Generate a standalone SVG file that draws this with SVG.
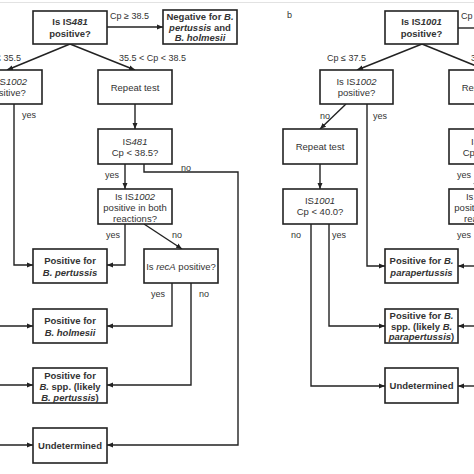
<svg xmlns="http://www.w3.org/2000/svg" width="474" height="474" viewBox="0 0 474 474">
<style>
.box{fill:#fff;stroke:#222;stroke-width:1.6}
.ln{fill:none;stroke:#222;stroke-width:1.4}
text{font-family:"Liberation Sans",Arial,sans-serif;fill:#333}
.t{font-size:9.5px;text-anchor:middle}
.b{font-weight:bold}
.lb{font-size:9px}
.i{font-style:italic}
</style>
<defs>
<marker id="ah" markerUnits="userSpaceOnUse" markerWidth="7" markerHeight="6" refX="6" refY="3" orient="auto">
<path d="M0,0.5 L6,3 L0,5.5 z" fill="#222"/>
</marker>
</defs>
<rect width="474" height="474" fill="#fff"/>
<line x1="0" y1="2.5" x2="474" y2="2.5" stroke="#e2e2e2" stroke-width="1"/>

<g id="connectors">
<!-- left panel -->
<line class="ln" x1="107" y1="27" x2="163" y2="27" marker-end="url(#ah)"/>
<line class="ln" x1="70" y1="44" x2="7" y2="70" marker-end="url(#ah)"/>
<line class="ln" x1="70" y1="44" x2="135" y2="70" marker-end="url(#ah)"/>
<line class="ln" x1="135" y1="104" x2="135" y2="129" marker-end="url(#ah)"/>
<line class="ln" x1="125" y1="164" x2="125" y2="189" marker-end="url(#ah)"/>
<polyline class="ln" points="144,164 144,172 238,172 238,445 107,445" marker-end="url(#ah)"/>
<polyline class="ln" points="125,224 125,265 107,265" marker-end="url(#ah)"/>
<line class="ln" x1="144" y1="224" x2="182" y2="249" marker-end="url(#ah)"/>
<polyline class="ln" points="14,104 14,265 33,265" marker-end="url(#ah)"/>
<polyline class="ln" points="172,283 172,326 107,326" marker-end="url(#ah)"/>
<polyline class="ln" points="191,283 191,385 107,385" marker-end="url(#ah)"/>
<line class="ln" x1="0" y1="326" x2="33" y2="326" marker-end="url(#ah)"/>
<line class="ln" x1="0" y1="385" x2="33" y2="385" marker-end="url(#ah)"/>
<line class="ln" x1="0" y1="445" x2="33" y2="445" marker-end="url(#ah)"/>
<!-- right panel -->
<line class="ln" x1="458" y1="28" x2="474" y2="28"/>
<line class="ln" x1="422" y1="44" x2="357" y2="70" marker-end="url(#ah)"/>
<line class="ln" x1="422" y1="44" x2="486" y2="70" marker-end="url(#ah)"/>
<line class="ln" x1="346" y1="104" x2="320" y2="129" marker-end="url(#ah)"/>
<polyline class="ln" points="367,104 367,266 385,266" marker-end="url(#ah)"/>
<line class="ln" x1="320" y1="164" x2="320" y2="189" marker-end="url(#ah)"/>
<polyline class="ln" points="311,224 311,386 385,386" marker-end="url(#ah)"/>
<polyline class="ln" points="329,224 329,326 385,326" marker-end="url(#ah)"/>
<line class="ln" x1="474" y1="266" x2="458" y2="266" marker-end="url(#ah)"/>
<line class="ln" x1="474" y1="326" x2="458" y2="326" marker-end="url(#ah)"/>
<line class="ln" x1="474" y1="386" x2="458" y2="386" marker-end="url(#ah)"/>
<line class="ln" x1="486" y1="104" x2="486" y2="129" marker-end="url(#ah)"/>
<line class="ln" x1="476" y1="164" x2="476" y2="189" marker-end="url(#ah)"/>
</g>

<g id="edge-labels">
<text class="lb" x="110" y="19">Cp ≥ 38.5</text>
<text class="lb" x="21" y="61" text-anchor="end">Cp ≤ 35.5</text>
<text class="lb" x="119" y="61">35.5 &lt; Cp &lt; 38.5</text>
<text class="lb" x="22" y="118">yes</text>
<text class="lb" x="181" y="171">no</text>
<text class="lb" x="105" y="178">yes</text>
<text class="lb" x="106" y="238">yes</text>
<text class="lb" x="172" y="238">no</text>
<text class="lb" x="151" y="297">yes</text>
<text class="lb" x="199" y="297">no</text>
<text class="lb" x="287" y="18" font-size="9.5">b</text>
<text class="lb" x="461" y="19">Cp ≥ 40.0</text>
<text class="lb" x="327" y="61">Cp ≤ 37.5</text>
<text class="lb" x="471" y="61">37.5 &lt; Cp &lt; 40.0</text>
<text class="lb" x="320" y="119">no</text>
<text class="lb" x="373" y="119">yes</text>
<text class="lb" x="291" y="238">no</text>
<text class="lb" x="332" y="238">yes</text>
<text class="lb" x="457" y="178">yes</text>
<text class="lb" x="457" y="238">yes</text>
</g>

<g id="a-q1"><rect class="box" x="33" y="11" width="74" height="33"/>
<text class="t b" x="70" y="25">Is IS<tspan class="i">481</tspan></text>
<text class="t b" x="70" y="36.5">positive?</text></g>

<g id="a-negative"><rect class="box" x="163" y="10" width="74" height="34"/>
<text class="t b" x="200" y="20">Negative for <tspan class="i">B.</tspan></text>
<text class="t b" x="200" y="30.5"><tspan class="i">pertussis</tspan> and</text>
<text class="t b" x="200" y="41"><tspan class="i">B. holmesii</tspan></text></g>

<g id="a-is1002"><rect class="box" x="-28" y="70" width="70" height="34"/>
<text class="t" x="7" y="84.5">Is IS<tspan class="i">1002</tspan></text>
<text class="t" x="7" y="96">positive?</text></g>

<g id="a-repeat"><rect class="box" x="98" y="70" width="74" height="34"/>
<text class="t" x="135" y="90.5">Repeat test</text></g>

<g id="a-q481"><rect class="box" x="98" y="129" width="74" height="35"/>
<text class="t" x="135" y="144.5">IS<tspan class="i">481</tspan></text>
<text class="t" x="135" y="156">Cp &lt; 38.5?</text></g>

<g id="a-both"><rect class="box" x="98" y="189" width="74" height="35"/>
<text class="t" x="135" y="199.5">Is IS<tspan class="i">1002</tspan></text>
<text class="t" x="135" y="210.5">positive in both</text>
<text class="t" x="135" y="221.5">reactions?</text></g>

<g id="a-pertussis"><rect class="box" x="33" y="249" width="74" height="34"/>
<text class="t b" x="70" y="264">Positive for</text>
<text class="t b i" x="70" y="275.5">B. pertussis</text></g>

<g id="a-reca"><rect class="box" x="144" y="249" width="74" height="34"/>
<text class="t" x="181" y="269.5">Is <tspan class="i">recA</tspan> positive?</text></g>

<g id="a-holmesii"><rect class="box" x="33" y="309" width="74" height="34"/>
<text class="t b" x="70" y="324">Positive for</text>
<text class="t b i" x="70" y="335.5">B. holmesii</text></g>

<g id="a-spp"><rect class="box" x="33" y="368" width="74" height="35"/>
<text class="t b" x="70" y="378.5">Positive for</text>
<text class="t b" x="70" y="389.5"><tspan class="i">B.</tspan> spp. (likely</text>
<text class="t b" x="70" y="400.5"><tspan class="i">B. pertussis</tspan>)</text></g>

<g id="a-undetermined"><rect class="box" x="33" y="428" width="74" height="35"/>
<text class="t b" x="70" y="449">Undetermined</text></g>

<g id="b-q1"><rect class="box" x="385" y="11" width="73" height="33"/>
<text class="t b" x="421.5" y="25">Is IS<tspan class="i">1001</tspan></text>
<text class="t b" x="421.5" y="36.5">positive?</text></g>

<g id="b-is1002"><rect class="box" x="320" y="70" width="73" height="34"/>
<text class="t" x="356.5" y="84.5">Is IS<tspan class="i">1002</tspan></text>
<text class="t" x="356.5" y="96">positive?</text></g>

<g id="b-repeat-right"><rect class="box" x="449" y="70" width="74" height="34"/>
<text class="t" x="486" y="90.5">Repeat test</text></g>

<g id="b-q1001-right"><rect class="box" x="449" y="129" width="74" height="35"/>
<text class="t" x="486" y="144.5">IS<tspan class="i">1001</tspan></text>
<text class="t" x="486" y="156">Cp &lt; 40.0?</text></g>

<g id="b-both-right"><rect class="box" x="449" y="189" width="74" height="35"/>
<text class="t" x="486" y="199.5">Is IS<tspan class="i">1002</tspan></text>
<text class="t" x="486" y="210.5">positive in both</text>
<text class="t" x="486" y="221.5">reactions?</text></g>

<g id="b-repeat"><rect class="box" x="283" y="129" width="74" height="35"/>
<text class="t" x="320" y="150">Repeat test</text></g>

<g id="b-q1001"><rect class="box" x="283" y="189" width="74" height="35"/>
<text class="t" x="320" y="203.5">IS<tspan class="i">1001</tspan></text>
<text class="t" x="320" y="215">Cp &lt; 40.0?</text></g>

<g id="b-parapertussis"><rect class="box" x="385" y="249" width="73" height="34"/>
<text class="t b" x="421.5" y="264">Positive for <tspan class="i">B.</tspan></text>
<text class="t b i" x="421.5" y="275.5">parapertussis</text></g>

<g id="b-spp"><rect class="box" x="385" y="309" width="73" height="34"/>
<text class="t b" x="421.5" y="318.5">Positive for <tspan class="i">B.</tspan></text>
<text class="t b" x="421.5" y="329.5">spp. (likely <tspan class="i">B.</tspan></text>
<text class="t b" x="421.5" y="340"><tspan class="i">parapertussis</tspan>)</text></g>

<g id="b-undetermined"><rect class="box" x="385" y="368" width="73" height="35"/>
<text class="t b" x="421.5" y="389">Undetermined</text></g>
</svg>
